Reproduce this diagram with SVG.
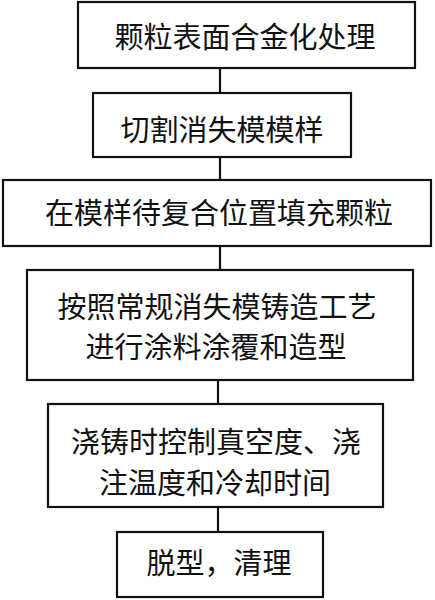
<svg xmlns="http://www.w3.org/2000/svg" width="435" height="600" viewBox="0 0 435 600">
<style>
rect.box{fill:#fff;stroke:#111;stroke-width:2.2}
line.c{stroke:#111;stroke-width:2.2}
text{font-family:"Noto Sans CJK SC","Noto Sans CJK JP",sans-serif;font-size:29px;fill:#111;text-anchor:middle}
</style>
<rect width="435" height="600" fill="#fff"/>
<g id="connectors">
<line class="c" x1="220" y1="68" x2="220" y2="93"/>
<line class="c" x1="220" y1="157" x2="220" y2="180"/>
<line class="c" x1="220" y1="246" x2="220" y2="270"/>
<line class="c" x1="218" y1="380" x2="218" y2="404"/>
<line class="c" x1="218" y1="507" x2="218" y2="532"/>
</g>
<g id="n1">
<rect class="box" x="78" y="2" width="337" height="66"/>
<text x="245" y="48">颗粒表面合金化处理</text>
</g>
<g id="n2">
<rect class="box" x="93" y="93" width="258" height="64"/>
<text x="222" y="141">切割消失模模样</text>
</g>
<g id="n3">
<rect class="box" x="3" y="180" width="428" height="66"/>
<text x="219" y="224">在模样待复合位置填充颗粒</text>
</g>
<g id="n4">
<rect class="box" x="27" y="270" width="386" height="110"/>
<text x="217" y="318">按照常规消失模铸造工艺</text>
<text x="216" y="358">进行涂料涂覆和造型</text>
</g>
<g id="n5">
<rect class="box" x="48" y="404" width="335" height="103"/>
<text x="216" y="453">浇铸时控制真空度、浇</text>
<text x="215" y="494">注温度和冷却时间</text>
</g>
<g id="n6">
<rect class="box" x="117" y="532" width="206" height="65"/>
<text x="219" y="574">脱型，清理</text>
</g>
</svg>
